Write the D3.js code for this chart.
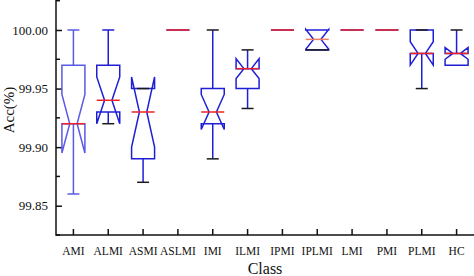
<!DOCTYPE html>
<html><head><meta charset="utf-8">
<script src="https://cdn.jsdelivr.net/npm/d3@7"></script>
<style>body{margin:0;background:#fff}svg{display:block}</style>
</head><body>
<svg id="c" width="474" height="276"></svg>
<script>
const categories = ["AMI","ALMI","ASMI","ASLMI","IMI","ILMI","IPMI","IPLMI","LMI","PMI","PLMI","HC"];
const minVals = [99.86, 99.92, 99.87, 100.00, 99.89, 99.933, 100.00, 99.983, 100.00, 100.00, 99.95, 99.97];
const q1Vals  = [99.92, 99.93, 99.89, 100.00, 99.92, 99.95,  100.00, 99.983, 100.00, 100.00, 99.98, 99.97];
const medVals = [99.92, 99.94, 99.93, 100.00, 99.93, 99.967, 100.00, 99.992, 100.00, 100.00, 99.98, 99.98];
const q3Vals  = [99.97, 99.97, 99.95, 100.00, 99.95, 99.967, 100.00, 100.00, 100.00, 100.00, 100.00, 99.98];
const maxVals = [100.00,100.00,99.95, 100.00, 100.00,99.983, 100.00, 100.00, 100.00, 100.00, 100.00, 100.00];
const sampleN = 10;
const yTicks = [99.85, 99.90, 99.95, 100.00];
const yMinorTicks = [99.825, 99.875, 99.925, 99.975, 100.025];

const svg = d3.select("#c");
const mLeft = 56, mRight = 474, mTop = 0, mBottom = 235;
const x = d3.scaleBand().domain(categories).range([mLeft, mRight]).paddingInner(0).paddingOuter(0);
const y = d3.scaleLinear().domain([99.825, 100.0256]).range([mBottom, mTop]);
const serif = "'Liberation Serif','Times New Roman',serif";

const boxColor = "#1f1fd6", lightBlue = "#5a5ae6", medColor = "#ee2222", capDark = "#1a1a1a";
const boxW = 23, capW = 12, waist = 0.32;

// axes
const yAxis = d3.axisLeft(y).tickValues(yTicks).tickFormat(d3.format(".2f")).tickSizeInner(-6).tickSizeOuter(0).tickPadding(8);
const gy = svg.append("g").attr("transform", `translate(${mLeft},0)`).call(yAxis);
gy.select(".domain").remove();
gy.selectAll("text").attr("font-family", serif).attr("font-size", 13).attr("fill", "#111");
gy.selectAll("line").attr("stroke", "#111").attr("stroke-width", 1.5);
svg.append("g").selectAll("line").data(yMinorTicks).join("line")
  .attr("x1", mLeft).attr("x2", mLeft + 4).attr("y1", d => y(d)).attr("y2", d => y(d))
  .attr("stroke", "#111").attr("stroke-width", 1.5);

const xAxis = d3.axisBottom(x).tickSizeInner(-6).tickSizeOuter(0).tickPadding(12);
const gx = svg.append("g").attr("transform", `translate(0,${mBottom})`).call(xAxis);
gx.select(".domain").remove();
gx.selectAll("text").attr("font-family", serif).attr("font-size", 11.5).attr("fill", "#111");
gx.selectAll("line").attr("stroke", "#111").attr("stroke-width", 1.5);

svg.append("line").attr("x1", mLeft).attr("x2", mLeft).attr("y1", 0).attr("y2", mBottom + 0.75).attr("stroke", "#111").attr("stroke-width", 1.5);
svg.append("line").attr("x1", mLeft).attr("x2", mRight).attr("y1", mBottom).attr("y2", mBottom).attr("stroke", "#111").attr("stroke-width", 1.5);

svg.append("text").attr("transform", `translate(14,110) rotate(-90)`).attr("text-anchor", "middle")
  .attr("font-family", serif).attr("font-size", 15).attr("fill", "#111").text("Acc(%)");
svg.append("text").attr("x", 265).attr("y", 274).attr("text-anchor", "middle")
  .attr("font-family", serif).attr("font-size", 16).attr("fill", "#111").text("Class");

// boxes
const data = categories.map((c, i) => {
  const iqr = q3Vals[i] - q1Vals[i];
  const notch = 1.58 * iqr / Math.sqrt(sampleN);
  return {c, i, min: minVals[i], q1: q1Vals[i], med: medVals[i], q3: q3Vals[i], max: maxVals[i], nHi: medVals[i] + notch, nLo: medVals[i] - notch};
});
const g = svg.append("g");
data.forEach(d => {
  const cx = x(d.c) + x.bandwidth() / 2;
  const L = cx - boxW / 2, R = cx + boxW / 2, wi = boxW * waist / 2;
  const col = d.c === "AMI" ? lightBlue : boxColor;
  g.append("line").attr("x1", cx).attr("x2", cx).attr("y1", y(d.q3)).attr("y2", y(d.max)).attr("stroke", col).attr("stroke-width", 1.5);
  g.append("line").attr("x1", cx).attr("x2", cx).attr("y1", y(d.q1)).attr("y2", y(d.min)).attr("stroke", col).attr("stroke-width", 1.5);
  const pts = [[L, d.q3], [R, d.q3], [R, d.nHi], [cx + wi, d.med], [R, d.nLo], [R, d.q1], [L, d.q1], [L, d.nLo], [cx - wi, d.med], [L, d.nHi]];
  g.append("path").attr("d", d3.line().x(p => p[0]).y(p => y(p[1])).curve(d3.curveLinearClosed)(pts))
    .attr("fill", "none").attr("stroke", col).attr("stroke-width", 1.5).attr("stroke-linejoin", "miter");
  const topCap = (d.c === "AMI") ? lightBlue : (d.c === "ALMI" ? boxColor : capDark);
  const botCap = (d.c === "AMI") ? lightBlue : (d.c === "HC" ? boxColor : capDark);
  if (d.max > d.q3 || d.c === "ASMI" || d.c === "PLMI")
    g.append("line").attr("x1", cx - capW / 2).attr("x2", cx + capW / 2).attr("y1", y(d.max)).attr("y2", y(d.max)).attr("stroke", topCap).attr("stroke-width", 1.5);
  if (d.min < d.q1 || d.c === "IPLMI")
    g.append("line").attr("x1", d.c === "IPLMI" ? L : cx - capW / 2).attr("x2", d.c === "IPLMI" ? R : cx + capW / 2).attr("y1", y(d.min)).attr("y2", y(d.min)).attr("stroke", botCap).attr("stroke-width", 1.5);
  g.append("line").attr("x1", L).attr("x2", R).attr("y1", y(d.med)).attr("y2", y(d.med))
    .attr("stroke", d.c === "IPLMI" ? "#f08060" : medColor).attr("stroke-width", 1.5);
});
</script>
</body></html>
